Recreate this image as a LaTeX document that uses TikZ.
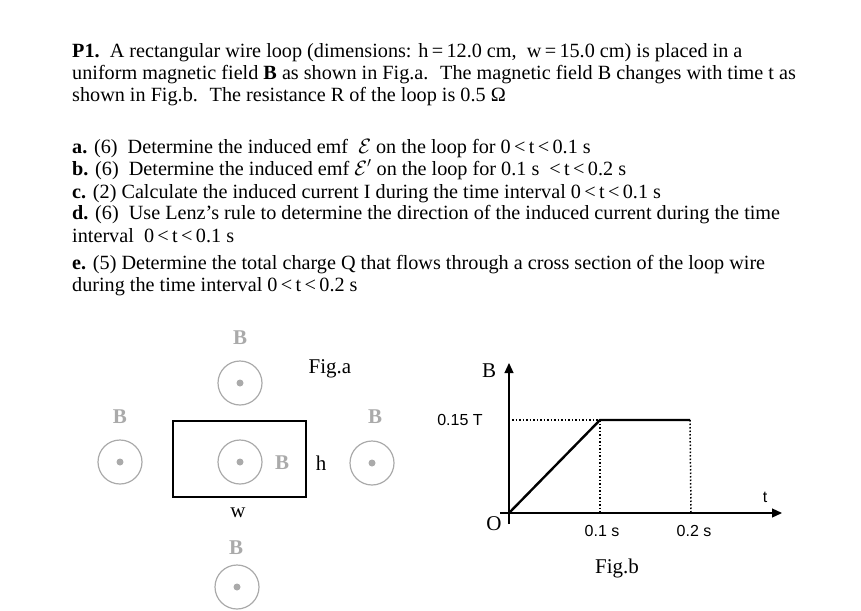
\documentclass[tikz,border=0pt]{standalone}
\usepackage{fontspec}
\setmainfont{Liberation Serif}
\newfontfamily\gsans{Liberation Sans}
\usetikzlibrary{arrows.meta}
\definecolor{fg}{HTML}{AAAAAA}
\tikzset{
 txt/.style={anchor=base west,inner sep=0,font=\fontsize{20.2}{22}\selectfont},
 fld/.style={circle,draw=fg,line width=1.2pt,minimum size=44pt,inner sep=0},
 blab/.style={text=fg,font=\fontsize{21}{22}\selectfont\bfseries},
 glab/.style={font=\gsans\fontsize{16}{18}\selectfont},
 dot/.style={circle,fill=fg,minimum size=7pt,inner sep=0},
 dotl/.style={dotted,line width=1.5pt},
 flab/.style={font=\fontsize{21}{22}\selectfont},
}
\begin{document}
\begin{tikzpicture}[x=1pt,y=-1pt]
\useasboundingbox (0,0) rectangle (861,610);
\node[txt] (l1) at (72,58) {\textbf{P1.}\ \ A rectangular wire loop (dimensions: h\,=\,12.0 cm, \ w\,=\,15.0 cm) is placed in a};
\node[txt] (l2) at (72,79) {uniform magnetic field \textbf{B} as shown in Fig.a. \ The magnetic field B changes with time t as};
\node[txt] (l3) at (72,101) {shown in Fig.b. \ The resistance R of the loop is 0.5 Ω};
\node[txt] (la) at (72,153) {\textbf{a.} (6) \ Determine the induced emf \ $\mathcal{E}$ on the loop for 0\,<\,t\,<\,0.1 s};
\node[txt] (lb) at (72,175) {\textbf{b.} (6) \ Determine the induced emf $\mathcal{E}'$ on the loop for 0.1 s \ <\,t\,<\,0.2 s};
\node[txt] (lc) at (72,198) {\textbf{c.} (2) Calculate the induced current I during the time interval 0\,<\,t\,<\,0.1 s};
\node[txt] (ld) at (72,219) {\textbf{d.} (6) \ Use Lenz’s rule to determine the direction of the induced current during the time};
\node[txt] (ld2) at (72,242) {interval \ 0\,<\,t\,<\,0.1 s};
\node[txt] (le) at (72,269) {\textbf{e.} (5) Determine the total charge Q that flows through a cross section of the loop wire};
\node[txt] (le2) at (72,291) {during the time interval 0\,<\,t\,<\,0.2 s};
% Fig.a
\draw[line width=2.2pt] (173,421) rectangle (306,497);
\foreach \n/\x/\y in {ct/240/383,cl/120/462,cm/240/462,cr/372/463,cb/237/587}{
 \node[fld] (\n) at (\x,\y) {};
 \node[dot] (\n d) at (\x,\y) {};
}
\node[blab] (bt) at (240,338) {B};
\node[blab] (bl) at (120,417) {B};
\node[blab] (br) at (375,417) {B};
\node[blab] (bm) at (282,463) {B};
\node[blab] (bb) at (236,548) {B};
\node[flab] (w) at (238,513) {w};
\node[flab] (h) at (321,463) {h};
\node[flab] (fa) at (330,369) {Fig.a};
% Fig.b
\coordinate (O) at (509,513);
\coordinate (ytop) at (509,363);
\coordinate (ybot) at (509,524);
\coordinate (xl) at (500,513);
\coordinate (xr) at (782,513);
\coordinate (p1) at (600,420);
\coordinate (p2) at (690,420);
\coordinate (y15) at (512,420);
\coordinate (b1) at (600,513);
\coordinate (b2) at (691,513);
\draw[line width=1.2pt,-{Triangle[length=10pt,width=9pt]}] (ybot) -- (ytop);
\draw[line width=1.2pt,-{Triangle[length=10pt,width=9pt]}] (xl) -- (xr);
\draw[line width=2.4pt] (O) -- (p1) -- (p2);
\draw[dotl] (y15) -- (p1);
\draw[dotl] (p1) -- (b1);
\draw[dotl] (p2) -- (b2);
\node[flab] (bB) at (489,371) {B};
\node[glab] (v15) at (460,420) {0.15 T};
\node[flab] (oO) at (494,524) {O};
\node[glab] (t1) at (602,531) {0.1 s};
\node[glab] (t2) at (694,531) {0.2 s};
\node[glab] (tt) at (765,497) {t};
\node[flab] (fb) at (617,568) {Fig.b};
\end{tikzpicture}
\end{document}
